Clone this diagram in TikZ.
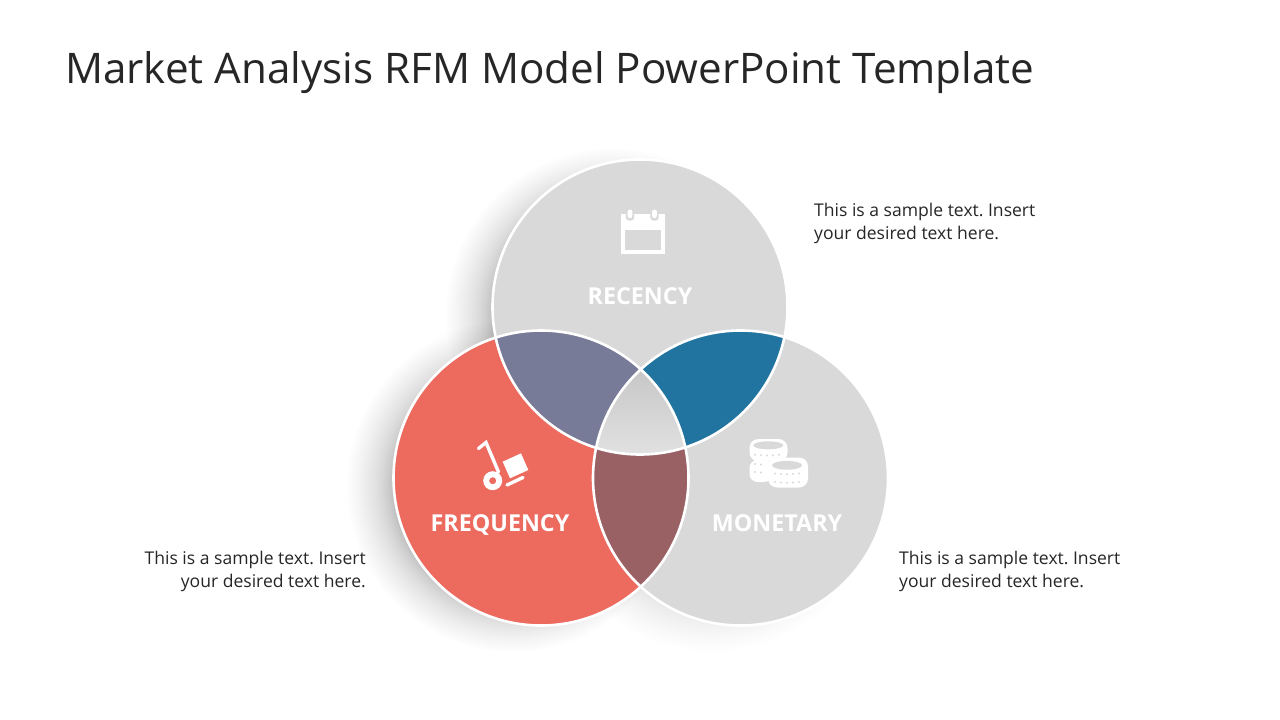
\documentclass[tikz,border=0pt]{standalone}
\usepackage{fontspec}
\setmainfont{Open Sans}
\usepackage{xcolor}
\definecolor{ringgray}{RGB}{217,217,217}
\definecolor{freqred}{RGB}{237,106,94}
\definecolor{lensviolet}{RGB}{119,123,152}
\definecolor{lensblue}{RGB}{34,116,160}
\definecolor{lensbrown}{RGB}{154,97,101}
\definecolor{inktext}{RGB}{38,38,38}
\tikzset{
  sampletext/.style={font=\fontsize{17.55}{23}\selectfont, text=inktext, inner sep=0pt},
  ringlabel/.style={font=\fontsize{23.3}{26}\selectfont\bfseries, text=white, inner sep=0pt, anchor=base},
  ringedge/.style={draw=white, line width=2.6pt},
  iconline/.style={draw=white, line width=3.4pt, line cap=round},
}
\frenchspacing
\begin{document}
\begin{tikzpicture}[x=1pt, y=-1pt]
  \def\rr{147.5}
  \useasboundingbox (0,0) rectangle (1280,720);
  \fill[white] (0,0) rectangle (1280,720);

  % soft shadows
  \foreach \st in {0,1,...,39}{
    \pgfmathsetmacro{\sr}{118+48*(1-\st/40)^2}
    \fill[black, opacity=0.0065] (640-28,307+8) circle (\sr);
    \fill[black, opacity=0.0065] (541-28,478+8) circle (\sr);
    \fill[black, opacity=0.005] (740-28,478+8) circle (\sr);
  }

  % three rings
  \fill[ringgray] (640,307) circle (\rr);
  \fill[ringgray] (740.5,478) circle (\rr);
  \fill[freqred] (541,478) circle (\rr);

  % overlaps
  \begin{scope}
    \clip (640,307) circle (\rr);
    \fill[lensviolet] (541,478) circle (\rr);
    \fill[lensblue] (740.5,478) circle (\rr);
  \end{scope}
  \begin{scope}
    \clip (541,478) circle (\rr);
    \fill[lensbrown] (740.5,478) circle (\rr);
  \end{scope}
  \begin{scope}
    \clip (640,307) circle (\rr);
    \clip (541,478) circle (\rr);
    \clip (740.5,478) circle (\rr);
    \shade[top color=black!22, bottom color=black!11] (585,370) rectangle (695,460);
  \end{scope}

  \draw[ringedge] (640,307) circle (\rr);
  \draw[ringedge] (541,478) circle (\rr);
  \draw[ringedge] (740.5,478) circle (\rr);

  % calendar
  \fill[white] (620.7,214) rectangle (665,254);
  \fill[ringgray] (625,229.5) rectangle (660.7,250);
  \foreach \cx in {630,654.5}{
    \fill[ringgray, rounded corners=3pt] (\cx-4.2,211) rectangle (\cx+4.2,220.5);
    \fill[white, rounded corners=2pt] (\cx-2.3,209.5) rectangle (\cx+2.3,218);
  }

  % hand truck
  \draw[iconline] (478.5,448.5) -- (486,442.5) -- (498.5,472);
  \fill[white] (502.7,461.7) -- (521,453.3) -- (528.3,470) -- (510,478.3) -- cycle;
  \draw[iconline] (507,485) -- (523,477.5);
  \fill[white, even odd rule] (492.7,480.7) circle (9.5) circle (3.6);

  % coins
  \fill[white, rounded corners=9pt] (749.5,439) rectangle (787.5,461.5);
  \fill[white, rounded corners=8pt] (749.5,460) rectangle (772,482);
  \fill[white, rounded corners=9pt] (768,457.5) rectangle (808,487.5);
  \fill[ringgray] (768.3,445.3) ellipse (15 and 4);
  \fill[ringgray] (787,465.3) ellipse (15 and 4.4);
  \foreach \cx/\cy in {755/454.7, 761/455.2, 767/455.4, 773/455.2, 779/454.7,
                       755/464, 761/464.5, 755/472, 761/472.5,
                       775/473.5, 781/474, 787/474.2, 793/474, 799/473.5,
                       775/482, 781/482.5, 787/482.7, 793/482.5, 799/482}{
    \fill[ringgray] (\cx,\cy) circle (1.1);
  }

  \node[font=\fontsize{42.15}{50}\selectfont, text=inktext, inner sep=0pt, anchor=base west] (title) at (65,83) {Market Analysis RFM Model PowerPoint Template};

  \node[ringlabel] (recency) at (640,304) {RECENCY};
  \node[ringlabel] (frequency) at (500,531) {FREQUENCY};
  \node[ringlabel] (monetary) at (777,531) {MONETARY};

  \node[sampletext, align=left, anchor=north west] (noter) at (814,203) {This is a sample text. Insert\\your desired text here.};
  \node[sampletext, align=left, anchor=north west] (notem) at (899,551) {This is a sample text. Insert\\your desired text here.};
  \node[sampletext, align=right, anchor=north east] (notef) at (366,551) {This is a sample text. Insert\\your desired text here.};
\end{tikzpicture}
\end{document}
